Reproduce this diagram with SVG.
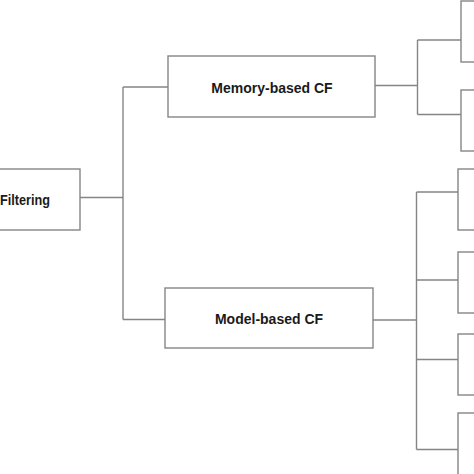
<svg xmlns="http://www.w3.org/2000/svg" width="474" height="474" viewBox="0 0 474 474">
<style>
.box{fill:#fff;stroke:#858585;stroke-width:1.4}
.ln{fill:none;stroke:#858585;stroke-width:1.4}
.t{font-family:"Liberation Sans",Arial,sans-serif;font-weight:bold;font-size:14px;fill:#1a1a1a;text-anchor:middle}
</style>
<rect width="474" height="474" fill="#fff"/>
<g id="connectors" class="ln">
<path d="M80 197.5H123M123 87V319.5M123 87H168M123 319.5H165"/>
<path d="M375 85.5H417.5M417.5 40V114.5M417.5 40H461M417.5 114.5H461"/>
<path d="M373 320H416.5M416.5 192V449.5M416.5 192H458M416.5 280H458M416.5 359.5H458M416.5 449.5H458"/>
</g>
<g id="root"><rect class="box" x="-130" y="169" width="210" height="61"/><text class="t" x="0" y="204.5" style="text-anchor:start" textLength="50" lengthAdjust="spacingAndGlyphs">Filtering</text></g>
<g id="memory"><rect class="box" x="168" y="56" width="207" height="61"/><text class="t" x="272" y="93">Memory-based CF</text></g>
<g id="model"><rect class="box" x="165" y="288" width="208" height="60"/><text class="t" x="269" y="323.5">Model-based CF</text></g>
<g id="mem1"><rect class="box" x="461" y="1" width="60" height="61"/></g>
<g id="mem2"><rect class="box" x="461" y="90" width="60" height="61"/></g>
<g id="mod1"><rect class="box" x="458" y="169" width="60" height="61"/></g>
<g id="mod2"><rect class="box" x="458" y="252" width="60" height="61"/></g>
<g id="mod3"><rect class="box" x="458" y="334" width="60" height="61"/></g>
<g id="mod4"><rect class="box" x="458" y="413" width="60" height="70"/></g>
</svg>
